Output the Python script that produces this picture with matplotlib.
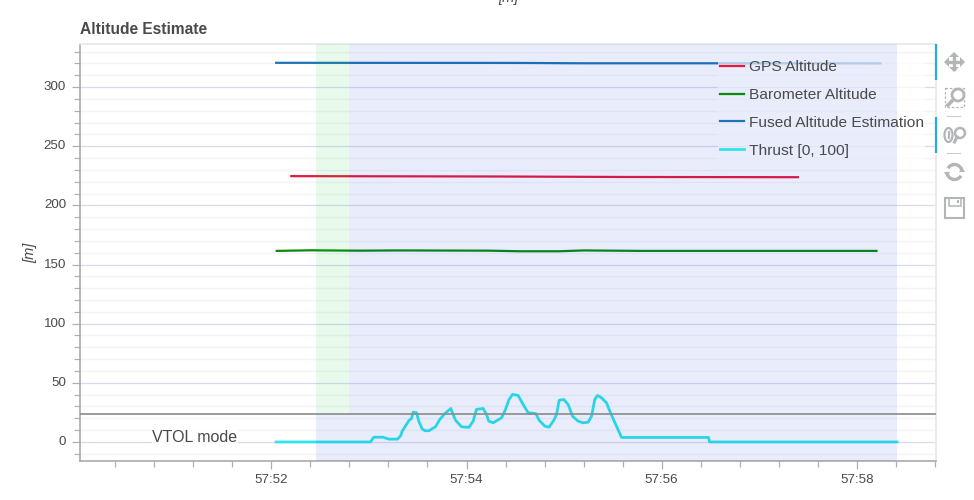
import numpy as np
import matplotlib
matplotlib.use("Agg")
import matplotlib.pyplot as plt
from matplotlib.lines import Line2D
from matplotlib.patches import Rectangle, Circle, Ellipse, Arc, Polygon
from matplotlib.transforms import Affine2D, ScaledTranslation
from matplotlib.ticker import MultipleLocator, FixedLocator, NullFormatter

plt.rcParams['font.family'] = ['Liberation Sans', 'DejaVu Sans']

# seconds after 57:52
gps_t = [0.205, 2.3, 3.6, 5.395]
gps_v = [224.7, 224.4, 224.0, 223.8]
baro_t = [0.056, 0.4, 0.9, 1.3, 2.23, 2.55, 2.95, 3.2, 3.8, 4.8, 6.2]
baro_v = [161.5, 162.0, 161.7, 161.9, 161.7, 161.2, 161.2, 161.9, 161.5, 161.5, 161.5]
fused_t = [0.05, 2.5, 3.2, 4.6, 6.24]
fused_v = [320.5, 320.4, 320.1, 320.1, 320.0]
thrust_t = [0.05, 1.016, 1.05, 1.145, 1.204, 1.293, 1.327, 1.34, 1.385, 1.412,
            1.436, 1.453, 1.488, 1.511, 1.545, 1.573, 1.614, 1.682, 1.726, 1.778,
            1.839, 1.863, 1.887, 1.949, 2.024, 2.068, 2.102, 2.17, 2.205, 2.228,
            2.273, 2.359, 2.392, 2.436, 2.471, 2.529, 2.58, 2.631, 2.71, 2.744,
            2.802, 2.846, 2.895, 2.922, 2.949, 2.997, 3.041, 3.086, 3.143, 3.194,
            3.246, 3.281, 3.314, 3.342, 3.383, 3.434, 3.475, 3.588, 4.48, 4.49, 6.412]
thrust_v = [0, 0, 4, 4, 2.4, 2.4, 5.5, 9, 14.8, 18.4,
            19.6, 25.2, 24.7, 17.6, 11.2, 9.5, 9.5, 12.8, 19, 24,
            28.3, 23.2, 18.4, 12.8, 12.3, 17.6, 27.5, 28.3, 23.2, 17.6,
            16.2, 20.4, 26, 35.9, 40.2, 39.3, 31.7, 24.7, 24, 18.4,
            13.4, 12.5, 18.4, 23.2, 35.3, 35.9, 31.7, 21.8, 17.6, 16.2,
            16.7, 21.8, 35.9, 39.3, 37.3, 33.1, 24.7, 3.8, 3.8, 0, 0]

series_labels = ['GPS Altitude', 'Barometer Altitude', 'Fused Altitude Estimation', 'Thrust [0, 100]']
series_colors = ['#e8183c', '#0c8a0c', '#1f74b4', '#2fe4e9']
x_ticks = [0, 2, 4, 6]
x_tick_labels = ['57:52', '57:54', '57:56', '57:58']
vtol_threshold = 24
transition_start, transition_end, flight_end = 0.457, 0.796, 6.412

TEXT = '#4a4a4a'
W, H = 974, 500
fig = plt.figure(figsize=(W / 100, H / 100), dpi=100)
ax = fig.add_axes([80 / W, (H - 461) / H, 856 / W, 417 / H])
ax.set_xlim(-1.96, 6.81)
ax.set_ylim(-16.1, 336.4)

ax.plot(gps_t, gps_v, color=series_colors[0], lw=1.6, zorder=2.2, label=series_labels[0])
ax.plot(baro_t, baro_v, color=series_colors[1], lw=1.6, zorder=2.2, label=series_labels[1])
ax.plot(fused_t, fused_v, color=series_colors[2], lw=1.6, zorder=2.2, label=series_labels[2])
ax.plot(thrust_t, thrust_v, color=series_colors[3], lw=2.0, zorder=2.2, label=series_labels[3])

# axes setup
ax.xaxis.set_major_locator(FixedLocator(x_ticks))
ax.set_xticklabels(x_tick_labels)
ax.xaxis.set_minor_locator(MultipleLocator(0.4))
ax.yaxis.set_major_locator(MultipleLocator(50))
ax.yaxis.set_minor_locator(MultipleLocator(10))
ax.yaxis.set_minor_formatter(NullFormatter())
ax.set_axisbelow(True)
ax.grid(which='minor', axis='y', color='#f3f3f5', lw=1.0, zorder=1)
ax.grid(which='major', axis='y', color='#dadaee', lw=0.9, zorder=1.1)
ax.tick_params(which='major', length=6, width=0.9, color='#b0b0b0', labelsize=9.6,
               labelcolor=TEXT, pad=4)
ax.tick_params(which='minor', length=4, width=0.9, color='#b0b0b0')
ax.tick_params(axis='x', which='major', pad=3.5)
for s in ('left', 'bottom'):
    ax.spines[s].set_color('#aaaaaa')
    ax.spines[s].set_linewidth(1.2)
for s in ('top', 'right'):
    ax.spines[s].set_color('#e8e8e8')
    ax.spines[s].set_linewidth(1.2)

lift = ScaledTranslation(0, 1.0 / 72, fig.dpi_scale_trans)
for lbl in ax.get_yticklabels():
    lbl.set_transform(lbl.get_transform() + lift)

# legend backing sits under the bands
to_px = Affine2D().scale(1 / W, -1 / H).translate(0, 1) + fig.transFigure
ax.add_artist(Rectangle((718, 56), 207, 104, transform=to_px, facecolor='white', alpha=0.72,
                        edgecolor='none', zorder=3))

# flight-mode bands
ylo, yhi = ax.get_ylim()
frac = (vtol_threshold - ylo) / (yhi - ylo)
blue = (0.0, 0.2, 0.85)
ax.axvspan(transition_start, flight_end, ymin=0, ymax=frac,
           facecolor=blue, alpha=0.088, lw=0, zorder=4)
ax.axvspan(transition_end, flight_end, ymin=frac, ymax=1,
           facecolor=blue, alpha=0.088, lw=0, zorder=4)
ax.axvspan(transition_start, transition_end, ymin=frac, ymax=1,
           facecolor=(0, 0.8, 0.2), alpha=0.09, lw=0, zorder=4)
ax.axhline(vtol_threshold, color='#8a8a8a', lw=1.2, zorder=4.5)

leg = ax.legend(loc='upper left', bbox_to_anchor=(719.5 / W, (H - 60) / H),
                bbox_transform=fig.transFigure, frameon=False, fontsize=11.15,
                handlelength=1.56, handletextpad=0.36, labelspacing=0.90,
                borderpad=0, borderaxespad=0)
leg.set_zorder(6)
for t in leg.get_texts():
    t.set_color(TEXT)

ax.text(0.5 * (152 + 238), 437.5, 'VTOL mode', transform=to_px, ha='center', va='center',
        fontsize=11.5, color=TEXT, zorder=5,
        bbox=dict(facecolor='white', edgecolor='none', alpha=0.85, pad=0.5))

fig.text(80 / W, 1 - 29 / H, 'Altitude Estimate', fontsize=11.2, fontweight='bold', color=TEXT,
         ha='left', va='center')
fig.text(30 / W, 1 - 253 / H, '[m]', fontsize=10.5, fontstyle='italic', color=TEXT,
         rotation=90, ha='center', va='center')
fig.text(508 / W, 1 + 2 / H, '[m]', fontsize=10.5, fontstyle='italic', color=TEXT,
         ha='center', va='center')

# toolbar
IC = '#b2b6b6'
def L(xs, ys, lw=1.6, c=IC, **kw):
    fig.add_artist(Line2D(xs, ys, transform=to_px, color=c, lw=lw, **kw))

for y0, y1 in ((44, 80), (117, 153)):
    L([936, 936], [y0, y1], lw=1.6, c='#26aae1', solid_capstyle='butt')
for y in (116, 153):
    L([947, 960], [y, y], lw=0.8, c='#cccccc')

# move
L([947, 961], [62, 62], lw=2.4)
L([954, 954], [55, 69], lw=2.4)
for pts in ([(944, 62), (949, 57), (949, 67)], [(965, 62), (960, 57), (960, 67)],
            [(954, 52), (949, 57), (959, 57)], [(954, 72), (949, 67), (959, 67)]):
    fig.add_artist(Polygon(pts, closed=True, transform=to_px, facecolor=IC, edgecolor='none'))

# box zoom
fig.add_artist(Rectangle((945, 88), 19, 19, transform=to_px, fill=False, edgecolor=IC, lw=0.9,
                         linestyle=(0, (2, 1.5))))
fig.add_artist(Circle((958, 95), 6, transform=to_px, fill=False, edgecolor=IC, lw=2.0))
L([953.5, 948], [99.5, 105], lw=2.6)

# wheel zoom
fig.add_artist(Ellipse((948.5, 135), 8, 14, transform=to_px, fill=False, edgecolor=IC, lw=1.6))
L([948.5, 948.5], [132, 138], lw=1.6)
fig.add_artist(Circle((960, 133), 5, transform=to_px, fill=False, edgecolor=IC, lw=1.8))
L([957, 954.5], [137, 142], lw=2.2)

# refresh
fig.add_artist(Arc((954.5, 172), 15, 15, theta1=30, theta2=160, transform=to_px, edgecolor=IC, lw=2.4))
fig.add_artist(Arc((954.5, 172), 15, 15, theta1=210, theta2=340, transform=to_px, edgecolor=IC, lw=2.4))
for pts in ([(959, 172), (965, 172), (962, 167)], [(944, 172), (950, 172), (947, 177)]):
    fig.add_artist(Polygon(pts, closed=True, transform=to_px, facecolor=IC, edgecolor='none'))

# save
fig.add_artist(Rectangle((945, 198), 19, 20, transform=to_px, fill=False, edgecolor=IC, lw=1.5))
fig.add_artist(Rectangle((949, 198), 12, 8, transform=to_px, fill=False, edgecolor=IC, lw=1.1))
fig.add_artist(Rectangle((957, 200), 2, 3, transform=to_px, facecolor=IC, edgecolor='none'))

fig.savefig('out.png', dpi=100)
